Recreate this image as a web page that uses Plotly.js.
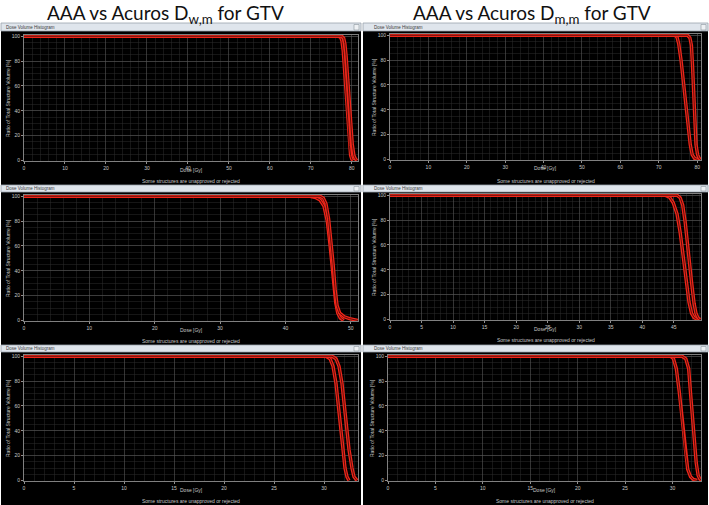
<!DOCTYPE html>
<html>
<head>
<meta charset="utf-8">
<script src="https://cdn.plot.ly/plotly-3.0.1.min.js"></script>
<style>
  html, body { margin: 0; padding: 0; background: #fff; }
  #chart { width: 709px; height: 505px; }
</style>
</head>
<body>
<div id="chart"></div>
<script>
// texts
const columnTitles = ["AAA vs Acuros D<sub>w,m</sub> for GTV", "AAA vs Acuros D<sub>m,m</sub> for GTV"];
const windowTitle = "Dose Volume Histogram";
const xAxisTitle = "Dose [Gy]";
const yAxisTitle = "Ratio of Total Structure Volume [%]";
const footNote = "Some structures are unapproved or rejected";
const yTickVals = [0, 20, 40, 60, 80, 100];

// row 1, left (D w,m)
const doseL1a = [0, 76.8, 77.3, 77.6, 77.9, 78.3, 78.7, 79.1, 79.4, 79.7, 80.0, 80.3];
const volL1a = [100, 100, 99, 96, 88, 70, 50, 28, 12, 4, 1, 0];
const doseL1b = [0, 77.5, 78.0, 78.3, 78.6, 79.0, 79.3, 79.7, 80.1, 80.5, 80.9, 81.3];
const volL1b = [100, 100, 98.5, 94, 84, 65, 50, 30, 13, 4, 1, 0];

// row 1, right (D m,m)
const doseR1a = [0, 74.3, 74.8, 75.2, 75.8, 76.5, 76.9, 77.6, 78.2, 78.7, 79.3, 80.0, 80.8];
const volR1a = [100, 100, 98, 93, 80, 60, 50, 30, 12, 4, 1, 0.2, 0];
const doseR1b = [0, 77.5, 78.1, 78.5, 78.8, 79.1, 79.4, 79.7, 80.1, 80.5, 80.9];
const volR1b = [100, 100, 98, 92, 75, 50, 28, 12, 4, 1, 0];

// row 2, left
const doseL2a = [0, 43.8, 44.6, 45.3, 45.9, 46.4, 46.8, 47.1, 47.4, 47.7, 48.0, 48.4, 48.9];
const volL2a = [100, 100, 99, 97, 92, 80, 62, 45, 28, 14, 6, 2, 0];
const doseL2b = [0, 45.3, 45.8, 46.2, 46.6, 47.0, 47.3, 47.6, 47.9, 48.3, 49.0, 49.8, 50.6, 51.1];
const volL2b = [100, 100, 98.5, 94, 82, 62, 45, 25, 12, 6, 3, 1.5, 0.5, 0];

// row 2, right
const doseR2a = [0, 43.6, 44.3, 44.9, 45.5, 46.0, 46.5, 47.0, 47.4, 47.8, 48.2, 48.7, 49.2];
const volR2a = [100, 100, 98.5, 94, 85, 70, 50, 30, 14, 5, 1.5, 0.3, 0];
const doseR2b = [0, 45.5, 46.0, 46.4, 46.8, 47.1, 47.4, 47.8, 48.2, 48.5, 48.8, 49.1];
const volR2b = [100, 100, 98, 92, 78, 62, 50, 30, 13, 5, 1.5, 0];

// row 3, left
const doseL3a = [0, 30.2, 30.6, 30.9, 31.2, 31.6, 31.9, 32.1, 32.3, 32.5];
const volL3a = [100, 100, 98, 92, 78, 50, 25, 10, 3, 0];
const doseL3b = [0, 30.8, 31.2, 31.5, 31.8, 32.2, 32.5, 32.8, 33.0, 33.3];
const volL3b = [100, 100, 98, 92, 78, 50, 25, 10, 3, 0];

// row 3, right
const doseR3a = [0, 29.8, 30.1, 30.4, 30.7, 31.0, 31.3, 31.6, 31.9, 32.2, 32.6];
const volR3a = [100, 100, 98, 90, 72, 50, 25, 9, 3, 0.8, 0];
const doseR3b = [0, 31.0, 31.4, 31.7, 31.9, 32.1, 32.3, 32.5, 32.7, 32.9, 33.1];
const volR3b = [100, 100, 98, 90, 70, 50, 30, 14, 4, 1, 0];

const W = 709, H = 505;
const px = (x) => x / W;
const py = (y) => 1 - y / H;

// panel geometry in pixels: plot box [left, right, top, bottom]
const panels = [
  { box: [24, 358, 35, 161], frame: [1, 361, 23, 31, 185], xMax: 81.5, major: 10, minor: 2, doseY: 170, noteY: 181,
    curves: [[doseL1a, volL1a], [doseL1b, volL1b]] },
  { box: [390, 701, 34, 160], frame: [363, 708, 23, 31, 185], xMax: 81.0, major: 10, minor: 2, doseY: 168, noteY: 181,
    curves: [[doseR1a, volR1a], [doseR1b, volR1b]] },
  { box: [24, 358, 195, 321], frame: [1, 361, 185, 192, 345], xMax: 51.1, major: 10, minor: 2, doseY: 330, noteY: 341,
    curves: [[doseL2a, volL2a], [doseL2b, volL2b]] },
  { box: [390, 701, 194, 320], frame: [363, 708, 185, 192, 345], xMax: 49.3, major: 5, minor: 1, doseY: 329, noteY: 340,
    curves: [[doseR2a, volR2a], [doseR2b, volR2b]] },
  { box: [24, 358, 355, 481], frame: [1, 361, 345, 352, 505], xMax: 33.4, major: 5, minor: 1, doseY: 490, noteY: 501,
    curves: [[doseL3a, volL3a], [doseL3b, volL3b]] },
  { box: [388, 701, 355, 481], frame: [363, 708, 345, 352, 505], xMax: 33.0, major: 5, minor: 1, doseY: 490, noteY: 501,
    curves: [[doseR3a, volR3a], [doseR3b, volR3b]] },
];

const smallFont = { family: "Liberation Sans, Arial, sans-serif", size: 5, color: "#c8c8c8" };

function axisCommon(domain, anchor) {
  return {
    domain,
    anchor,
    showgrid: true,
    gridcolor: "#565656",
    gridwidth: 0.6,
    zeroline: false,
    showline: true,
    mirror: true,
    linecolor: "#808080",
    linewidth: 1,
    ticks: "outside",
    ticklen: 2,
    tickcolor: "#909090",
    tickfont: smallFont,
    fixedrange: true,
  };
}

const data = [];
const layout = {
  width: W,
  height: H,
  margin: { l: 0, r: 0, t: 0, b: 0 },
  paper_bgcolor: "#ffffff",
  plot_bgcolor: "#000000",
  showlegend: false,
  hovermode: false,
  shapes: [],
  annotations: [],
};

panels.forEach((p, i) => {
  const n = i + 1;
  const xa = "x" + (n === 1 ? "" : n);
  const ya = "y" + (n === 1 ? "" : n);
  const [l, r, t, b] = p.box;
  const [fx0, fx1, barTop, barBot, bodyBot] = p.frame;

  layout["xaxis" + (n === 1 ? "" : n)] = {
    ...axisCommon([px(l), px(r)], ya),
    range: [0, p.xMax],
    tick0: 0,
    dtick: p.major,
    minor: { dtick: p.minor, showgrid: true, gridcolor: "#2c2c2c", gridwidth: 0.5 },
  };
  layout["yaxis" + (n === 1 ? "" : n)] = {
    ...axisCommon([py(b), py(t)], xa),
    range: [-0.4, 101],
    tickvals: yTickVals,
    minor: { dtick: 5, showgrid: true, gridcolor: "#2c2c2c", gridwidth: 0.5 },
  };

  // each DVH curve: red band with a dark core line
  p.curves.forEach(([dose, vol]) => {
    data.push({ x: dose, y: vol, xaxis: xa, yaxis: ya, type: "scatter", mode: "lines",
      line: { color: "#f0261a", width: 3.4 } });
    data.push({ x: dose, y: vol, xaxis: xa, yaxis: ya, type: "scatter", mode: "lines",
      line: { color: "#4d0b07", width: 0.9 } });
  });

  // window frame
  layout.shapes.push({ type: "rect", xref: "paper", yref: "paper", layer: "below",
    x0: px(fx0), x1: px(fx1), y0: py(barBot), y1: py(bodyBot),
    fillcolor: "#000000", line: { width: 0 } });
  layout.shapes.push({ type: "rect", xref: "paper", yref: "paper", layer: "below",
    x0: px(fx0), x1: px(fx1), y0: py(barTop), y1: py(barBot),
    fillcolor: "#dfe5ec", line: { color: "#9aa3ad", width: 0.8 } });
  layout.shapes.push({ type: "rect", xref: "paper", yref: "paper", layer: "below",
    x0: px(fx1 - 7), x1: px(fx1 - 2), y0: py(barBot - 1), y1: py(barTop + 1.5),
    fillcolor: "#eef1f4", line: { color: "#8a939c", width: 0.6 } });

  const cx = px((l + r) / 2);
  layout.annotations.push(
    { xref: "paper", yref: "paper", x: px(fx0 + 3 + (fx0 > 300 ? 6 : 0)), y: py((barTop + barBot) / 2),
      xanchor: "left", yanchor: "middle", showarrow: false, text: windowTitle,
      font: { family: "Liberation Sans, Arial, sans-serif", size: 4.5, color: "#3a3a3a" } },
    { xref: "paper", yref: "paper", x: px(l - 16), y: py((t + b) / 2), textangle: -90,
      xanchor: "center", yanchor: "middle", showarrow: false, text: yAxisTitle, font: smallFont },
    { xref: "paper", yref: "paper", x: cx, y: py(p.doseY), xanchor: "center", yanchor: "middle",
      showarrow: false, text: xAxisTitle, font: smallFont },
    { xref: "paper", yref: "paper", x: cx, y: py(p.noteY), xanchor: "center", yanchor: "middle",
      showarrow: false, text: footNote, font: smallFont }
  );
});

// column headings
const headFont = { family: "Lato, Open Sans, sans-serif", size: 19, color: "#111" };
layout.annotations.push(
  { xref: "paper", yref: "paper", x: px(165), y: py(14), xanchor: "center", yanchor: "middle",
    showarrow: false, text: columnTitles[0], font: headFont, borderpad: 0 },
  { xref: "paper", yref: "paper", x: px(532), y: py(14), xanchor: "center", yanchor: "middle",
    showarrow: false, text: columnTitles[1], font: headFont, borderpad: 0 }
);

Plotly.newPlot("chart", data, layout, { staticPlot: true, displayModeBar: false });
</script>
</body>
</html>
